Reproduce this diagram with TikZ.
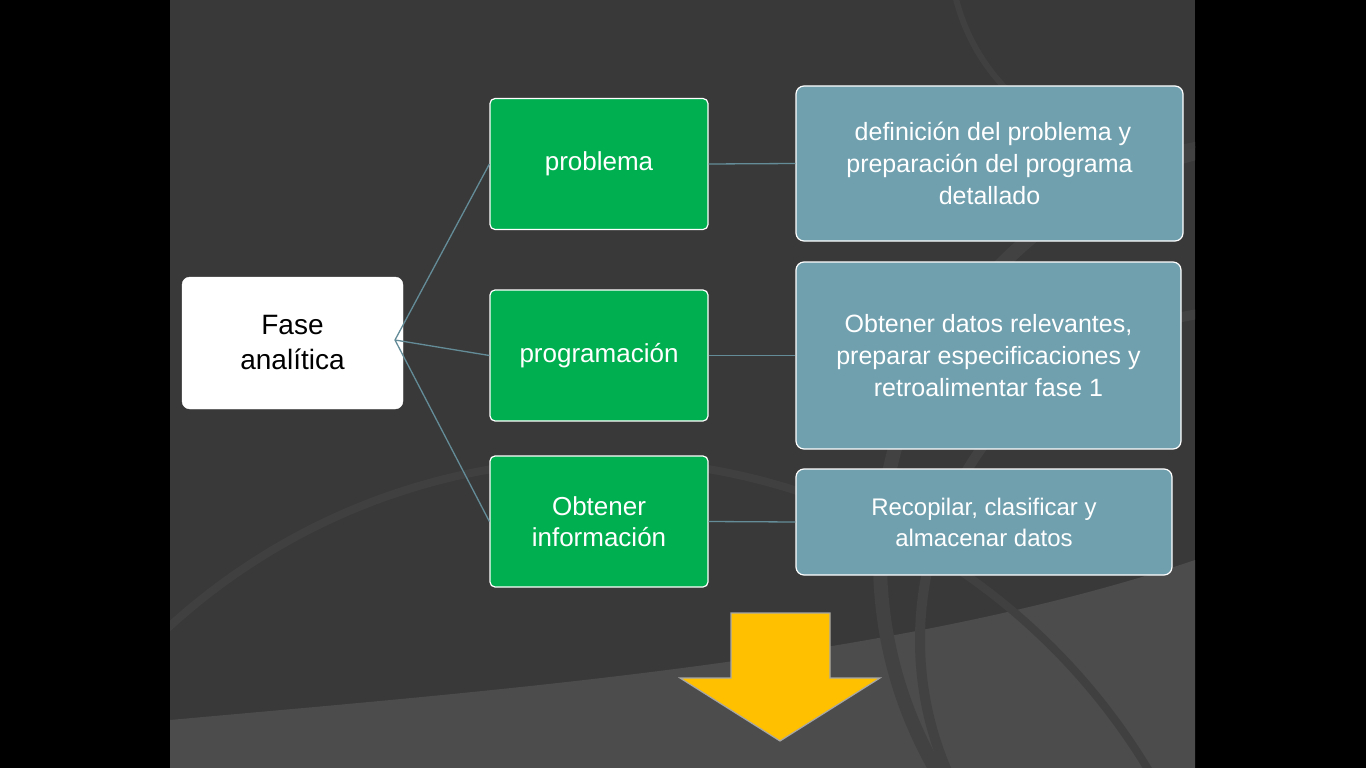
\documentclass[tikz,border=0pt]{standalone}
\usepackage{fontspec}
\setmainfont{Liberation Sans}
\begin{document}
\begin{tikzpicture}[x=1pt,y=-1pt,
 green/.style={draw=white,line width=1.2pt,fill={rgb,255:red,0;green,176;blue,80},rounded corners=5pt,text=white,font=\fontsize{26}{31}\selectfont,align=center,minimum width=218pt,minimum height=131pt,inner sep=2pt},
 blue/.style={draw=white,line width=1.2pt,fill={rgb,255:red,112;green,160;blue,174},rounded corners=8pt,text=white,font=\fontsize{25}{32}\selectfont,align=center,inner sep=2pt},
 conn/.style={draw={rgb,255:red,100;green,140;blue,152},line width=1.3pt}]
\useasboundingbox (0,0) rectangle (1366,768);
\fill[black] (0,0) rectangle (1366,768);
\fill[gray!45!black] (170,0) rectangle (1195,768);
\begin{scope}
\clip (170,0) rectangle (1195,768);
\fill[gray!60!black] (170,720) .. controls (500,690) and (900,660) .. (1195,560) -- (1195,768) -- (170,768) -- cycle;
\draw[gray!52!black,line width=14pt] (1300,560) circle (420);
\draw[gray!52!black,line width=10pt] (1250,640) circle (330);
\draw[gray!50!black,line width=8pt] (600,1100) circle (640);
\draw[gray!50!black,line width=6pt] (1150,-50) circle (200);
\end{scope}
\node[draw=white,fill=white,rounded corners=8pt,minimum width=221pt,minimum height=132pt,align=center,font=\fontsize{28}{35}\selectfont] (fa) at (292.5,343) {Fase\\analítica};
\node[green] (g1) at (599,164) {problema};
\node[green] (g2) at (599,355.5) {programación};
\node[green] (g3) at (599,521.5) {Obtener\\información};
\node[blue,minimum width=387pt,minimum height=155pt] (b1) at (989.5,163.5) {\ definición del problema y\\preparación del programa\\detallado};
\node[blue,minimum width=385pt,minimum height=187pt] (b2) at (988.5,355.5) {Obtener datos relevantes,\\preparar especificaciones y\\retroalimentar fase 1};
\node[blue,minimum width=376pt,minimum height=106pt,font=\fontsize{24}{31}\selectfont] (b3) at (984,522) {Recopilar,\ clasificar\ y\\almacenar\ datos};
\coordinate (hub) at (395,340);
\draw[conn] (g1.west) -- (hub) -- (g3.west);
\draw[conn] (hub) -- (g2.west);
\draw[conn] (g1.east) -- (b1.west);
\draw[conn] (g2.east) -- (b2.west);
\draw[conn] (g3.east) -- (b3.west);
\fill[fill={rgb,255:red,255;green,192;blue,0},draw=gray!70,line width=1.2pt] (731,613) -- (830,613) -- (830,678) -- (880,678) -- (780,741) -- (680,678) -- (731,678) -- cycle;
\end{tikzpicture}
\end{document}
